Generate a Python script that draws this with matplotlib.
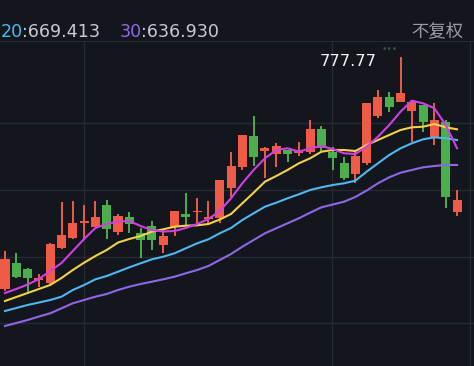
import matplotlib
matplotlib.use("Agg")
import matplotlib.pyplot as plt
import numpy as np

# daily K-line, values
opens = [475.3, 509.9, 501.3, 487.4, 483.1, 529.4, 541.6, 561.9, 556.7, 584.9,
         550.2, 569.7, 548.1, 557.6, 532.9, 556.7, 572.8, 575.4, 566.3, 567.6,
         606.6, 634.7, 674.6, 655.5, 651.2, 656.4, 652.1, 654.2, 683.3, 654.2,
         639.1, 625.2, 639.9, 700.6, 724.9, 719.2, 707.1, 714.9, 672.9, 693.2,
         576.2]
highs = [525.5, 522.1, 503.4, 495.2, 536.0, 588.8, 590.5, 584.9, 590.1, 591.4,
         573.2, 576.2, 554.6, 564.5, 552.4, 577.1, 600.1, 593.6, 590.1, 617.4,
         654.2, 675.9, 700.6, 660.7, 665.9, 656.4, 667.2, 695.4, 687.6, 660.3,
         646.9, 656.4, 717.1, 734.4, 731.4, 777.77, 719.2, 714.9, 717.9, 695.4,
         604.4]
lows = [473.5, 489.6, 470.9, 477.9, 480.9, 527.3, 540.3, 540.3, 555.9, 540.3,
        545.9, 548.1, 515.6, 526.4, 522.1, 544.6, 558.9, 561.1, 561.1, 561.1,
        595.7, 630.4, 635.6, 619.6, 634.7, 641.2, 648.6, 651.2, 652.1, 630.4,
        617.4, 613.9, 636.9, 697.6, 706.2, 719.2, 667.2, 680.2, 662.9, 580.6,
        570.6]
closes = [514.3, 491.7, 489.6, 489.6, 534.2, 545.5, 561.1, 564.5, 569.7, 553.3,
          570.6, 560.2, 539.4, 539.4, 544.6, 577.1, 568.9, 577.1, 569.7, 617.4,
          635.6, 675.9, 647.7, 658.6, 661.6, 651.2, 656.4, 683.3, 658.6, 645.6,
          619.6, 648.6, 717.1, 725.7, 712.7, 730.1, 719.2, 693.2, 695.4, 594.9,
          591.4]

ma5 = [470.5, 475.7, 481.5, 488.7, 499.1, 509.5, 525.1, 540.7, 555.0, 560.2,
       563.4, 564.1, 557.6, 552.4, 550.4, 551.1, 555.0, 560.2, 566.7, 577.1,
       593.6, 613.1, 630.4, 645.6, 656.4, 658.6, 654.2, 658.6, 661.6, 657.7,
       652.1, 651.2, 660.7, 673.7, 688.9, 706.2, 720.5, 717.1, 710.6, 688.9,
       658.6]
ma10 = [460.1, 465.3, 470.5, 475.7, 480.9, 490.0, 500.4, 509.9, 518.6, 526.4,
        536.1, 540.7, 544.6, 550.2, 553.3, 556.7, 558.0, 558.5, 560.2, 566.0,
        573.2, 587.1, 600.9, 615.2, 622.6, 630.4, 639.1, 645.6, 654.2, 656.4,
        656.4, 655.1, 662.9, 669.4, 675.9, 682.4, 685.9, 686.7, 690.2, 685.9,
        683.3]
ma20 = [447.1, 451.0, 454.9, 458.1, 461.4, 465.7, 474.4, 480.9, 488.3, 492.6,
        498.2, 503.9, 509.1, 514.3, 517.7, 522.1, 528.6, 535.1, 540.3, 548.1,
        555.0, 565.4, 574.1, 582.7, 587.9, 593.6, 598.8, 604.4, 607.9, 610.9,
        613.1, 616.5, 628.2, 639.1, 649.9, 658.6, 665.1, 670.3, 672.9, 671.6,
        669.413]
ma30 = [427.6, 431.5, 435.4, 439.9, 444.1, 450.6, 457.1, 461.4, 465.7, 469.2,
        474.4, 478.7, 482.2, 485.2, 488.3, 491.7, 496.1, 500.4, 505.6, 513.4,
        521.2, 530.7, 539.4, 548.1, 554.6, 561.1, 567.6, 574.9, 581.9, 585.5,
        589.2, 595.3, 603.7, 613.1, 620.9, 626.9, 630.4, 633.9, 635.6, 636.9,
        636.93]

legend_items = [("20", ":669.413", "#4db8ef"), ("30", ":636.930", "#8d68e6")]
adj_label = "不复权"
grid_prices = [691.5, 604.4, 517.3, 431.5]
grid_days = [6.99, 28.94, 41.15]

bg = "#14161d"
grid_c = "#262a33"
up_c = "#ee5b47"
down_c = "#4cae4c"
text_c = "#c9cbd1"

plt.rcParams['font.family'] = ['DejaVu Sans', 'Noto Sans CJK SC']

fig = plt.figure(figsize=(4.74, 3.66), dpi=100)
fig.patch.set_facecolor(bg)
ax = fig.add_axes([0, 0, 1, 325 / 366])
ax.set_facecolor(bg)

o = np.array(opens)
c = np.array(closes)
h = np.array(highs)
l = np.array(lows)
x = np.arange(len(o))
cols = np.where(c >= o, up_c, down_c)

ax.vlines(x, l, h, colors=cols, linewidth=1.4, zorder=2)
body_h = np.maximum(np.abs(c - o), 1.2)
ax.bar(x, body_h, bottom=np.minimum(o, c), width=0.8, color=cols, zorder=3)

ax.plot(x, ma30, color="#8d68e6", lw=1.5, zorder=4)
ax.plot(x, ma20, color="#4db8ef", lw=1.5, zorder=4)
ax.plot(x, ma10, color="#f3d04a", lw=1.5, zorder=4)
ax.plot(x, ma5, color="#d03fe6", lw=1.5, zorder=5)

ax.set_xlim(-0.442, 41.5)
ax.set_ylim(375.6, 798.1)
ax.set_yticks(grid_prices)
ax.set_xticks(grid_days)
ax.grid(True, color=grid_c, lw=1)
ax.tick_params(length=0, labelleft=False, labelbottom=False)
for s in ["left", "right", "bottom"]:
    ax.spines[s].set_visible(False)
ax.spines["top"].set_color(grid_c)

imax = int(np.argmax(h))
ax.annotate(f"{h[imax]:.2f}", xy=(imax, h[imax]), xytext=(-17, 2),
            textcoords="offset points", ha="right", va="top",
            color="#f2f2f2", fontsize=11.7)
ax.annotate("•••", xy=(imax, h[imax]), xytext=(-2, 2), textcoords="offset points",
            ha="right", va="bottom", color="#444957", fontsize=6.5)

# header legend
xpos = [1 / 474, 120 / 474]
for (k, v, kc), xp in zip(legend_items, xpos):
    t = fig.text(xp, 0.9, k, color=kc, fontsize=12.6, va="baseline")
    ax.annotate(v, xy=(1, 0), xycoords=t, xytext=(-1, 0), textcoords="offset points",
                va="bottom", ha="left", color=text_c, fontsize=12.6,
                annotation_clip=False)
fig.text(463 / 474, 0.9, adj_label, color="#9a9ca3", fontsize=12.5,
         ha="right", va="baseline", family="Noto Sans CJK SC")

fig.savefig("out.png", dpi=100, facecolor=bg)
